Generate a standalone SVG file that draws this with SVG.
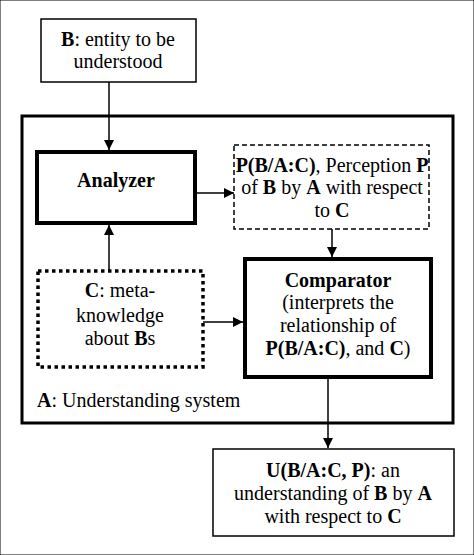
<svg xmlns="http://www.w3.org/2000/svg" width="474" height="555" viewBox="0 0 474 555">
<style>
text{font-family:'Liberation Serif','DejaVu Serif',serif;font-size:20px;fill:#000}
.c{text-anchor:middle}
.b{font-weight:bold}
rect{fill:#fff;stroke:#000}
.thin{stroke-width:1.5}
.thick{stroke-width:4}
.dash{stroke-width:1.5;stroke-dasharray:5,3}
.dot{stroke-width:3.5;stroke-dasharray:3.5,3.5}
.ln{stroke:#000;stroke-width:1.5;fill:none}
</style>
<defs>
<marker id="ah" viewBox="0 0 10 10" refX="10" refY="5" markerWidth="10" markerHeight="10" markerUnits="userSpaceOnUse" orient="auto">
<path d="M0,0 L10,5 L0,10 z" fill="#000"/>
</marker>
</defs>
<rect width="474" height="555" fill="#fff" stroke="none"/>
<g id="A">
<rect x="22" y="116" width="431" height="307" stroke-width="3" fill="none"/>
<text x="37" y="407"><tspan class="b">A</tspan>: Understanding system</text>
</g>
<g id="B">
<rect class="thin" x="41" y="19" width="155" height="63"/>
<text class="c" x="118" y="46"><tspan class="b">B</tspan>: entity to be</text>
<text class="c" x="118" y="68">understood</text>
</g>
<g id="analyzer">
<rect class="thick" x="37" y="152" width="158" height="71"/>
<text class="c b" x="116" y="187">Analyzer</text>
</g>
<g id="P">
<rect class="dash" x="234" y="145" width="195" height="84"/>
<text class="c" x="332" y="172"><tspan class="b">P(B/A:C)</tspan>, Perception <tspan class="b">P</tspan></text>
<text class="c" x="332" y="194">of <tspan class="b">B</tspan> by <tspan class="b">A</tspan> with respect</text>
<text class="c" x="332" y="217">to <tspan class="b">C</tspan></text>
</g>
<g id="C">
<rect class="dot" x="38" y="271" width="165" height="96"/>
<text class="c" x="120" y="297"><tspan class="b">C</tspan>: meta-</text>
<text class="c" x="120" y="322">knowledge</text>
<text class="c" x="120" y="345">about <tspan class="b">B</tspan>s</text>
</g>
<g id="comparator">
<rect class="thick" x="245" y="259" width="186" height="118"/>
<text class="c b" x="338" y="287">Comparator</text>
<text class="c" x="338" y="309">(interprets the</text>
<text class="c" x="338" y="332">relationship of</text>
<text class="c" x="338" y="355"><tspan class="b">P(B/A:C)</tspan>, and <tspan class="b">C</tspan>)</text>
</g>
<g id="U">
<rect class="thin" x="213" y="449" width="241" height="87"/>
<text class="c" x="333" y="477"><tspan class="b">U(B/A:C, P)</tspan>: an</text>
<text class="c" x="333" y="500">understanding of <tspan class="b">B</tspan> by <tspan class="b">A</tspan></text>
<text class="c" x="333" y="523">with respect to <tspan class="b">C</tspan></text>
</g>
<g id="connectors">
<line class="ln" x1="109" y1="82" x2="109" y2="150" marker-end="url(#ah)"/>
<line class="ln" x1="195" y1="193" x2="234" y2="193" marker-end="url(#ah)"/>
<line class="ln" x1="332" y1="229" x2="332" y2="257" marker-end="url(#ah)"/>
<line class="ln" x1="109" y1="270" x2="109" y2="225" marker-end="url(#ah)"/>
<line class="ln" x1="203" y1="322" x2="243" y2="322" marker-end="url(#ah)"/>
<line class="ln" x1="328" y1="377" x2="328" y2="448" marker-end="url(#ah)"/>
</g>
</svg>
